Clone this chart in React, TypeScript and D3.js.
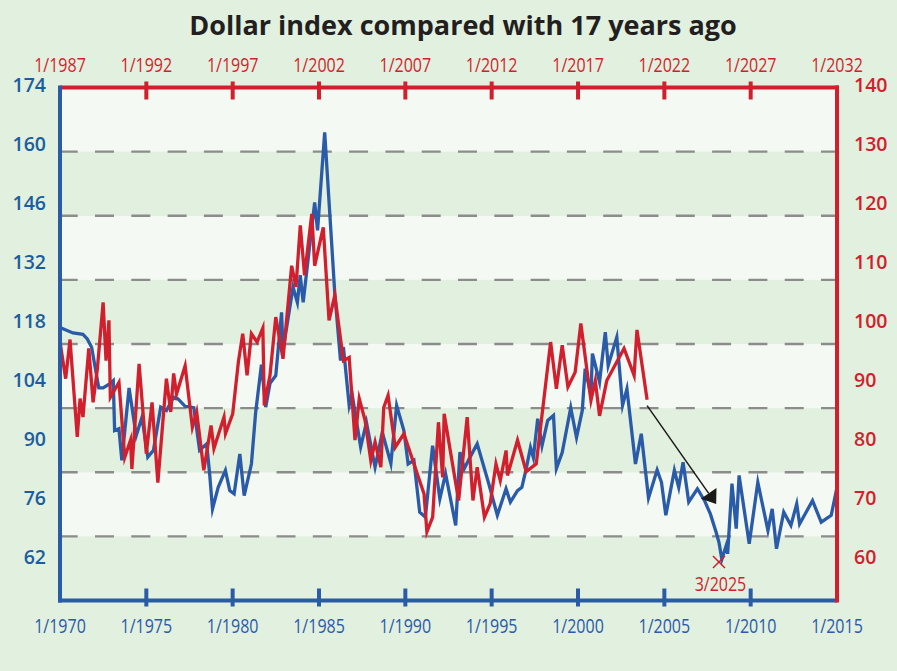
import React from 'react';
import * as d3 from 'd3';

const W = 897;
const H = 671;
const PLOT = { left: 60, right: 837, top: 87.5, bottom: 600.5 };

const TITLE = 'Dollar index compared with 17 years ago';

// Dollar index, 1970-2015 (bottom / left axes)
const pastIndex: [string, number][] = [
  ['1970-01', 121.6], ['1970-10', 120.4], ['1971-05', 120.1], ['1971-08', 119.1],
  ['1971-11', 117.3], ['1972-01', 113.7], ['1972-04', 108.4], ['1972-07', 108.4],
  ['1972-12', 109.4], ['1973-02', 110.0], ['1973-03', 99.1], ['1973-06', 99.5],
  ['1973-08', 92.6], ['1974-01', 108.4], ['1974-06', 98.0], ['1974-10', 102.0],
  ['1975-02', 93.3], ['1975-06', 94.8], ['1975-11', 104.2], ['1976-03', 103.5],
  ['1976-08', 106.4], ['1976-11', 106.0], ['1977-04', 104.4], ['1977-10', 104.1],
  ['1978-02', 94.8], ['1978-07', 96.2], ['1978-09', 89.7], ['1978-11', 82.0],
  ['1979-03', 86.7], ['1979-08', 90.4], ['1979-11', 86.0], ['1980-02', 85.3],
  ['1980-06', 94.0], ['1980-09', 84.9], ['1981-02', 91.8], ['1981-05', 103.0],
  ['1981-09', 113.5], ['1981-12', 104.2], ['1982-03', 109.4], ['1982-07', 111.1],
  ['1982-11', 124.9], ['1982-12', 116.6], ['1983-07', 130.4], ['1983-10', 127.1],
  ['1983-12', 133.0], ['1984-02', 127.1], ['1984-06', 138.0], ['1984-10', 148.9],
  ['1984-12', 142.8], ['1985-05', 164.2], ['1985-12', 129.0], ['1986-04', 114.4],
  ['1986-06', 117.3], ['1986-10', 104.6], ['1986-12', 107.1], ['1987-06', 95.5],
  ['1987-10', 100.9], ['1988-04', 91.1], ['1988-09', 98.7], ['1989-03', 91.9],
  ['1989-07', 104.6], ['1989-12', 99.1], ['1990-03', 91.8], ['1990-07', 92.6],
  ['1990-11', 81.3], ['1991-03', 80.2], ['1991-08', 95.8], ['1992-01', 84.2],
  ['1992-05', 89.7], ['1992-12', 78.4], ['1993-03', 94.4], ['1993-06', 90.8],
  ['1993-10', 93.3], ['1994-03', 96.2], ['1994-11', 87.5], ['1995-05', 80.6],
  ['1995-11', 86.4], ['1996-02', 83.5], ['1996-07', 86.0], ['1996-10', 86.7],
  ['1997-01', 90.8], ['1997-04', 95.4], ['1997-06', 93.2], ['1997-09', 101.7],
  ['1997-12', 95.8], ['1998-04', 101.3], ['1998-08', 102.4], ['1998-10', 90.8],
  ['1999-02', 94.3], ['1999-08', 104.1], ['1999-12', 97.6], ['2000-04', 103.5],
  ['2000-06', 112.6], ['2000-10', 106.8], ['2000-11', 115.9], ['2001-04', 109.7],
  ['2001-08', 120.6], ['2001-10', 113.3], ['2002-04', 119.5], ['2002-08', 104.6],
  ['2002-11', 108.2], ['2003-05', 91.8], ['2003-09', 98.4], ['2004-02', 84.4],
  ['2004-08', 90.5], ['2004-11', 87.8], ['2005-02', 80.6], ['2005-08', 90.4],
  ['2005-11', 86.7], ['2006-02', 92.2], ['2006-06', 83.5], ['2006-12', 86.4],
  ['2007-05', 83.8], ['2007-09', 80.9], ['2008-01', 76.9], ['2008-03', 74.7],
  ['2008-05', 71.0], ['2008-08', 74.0], ['2008-09', 72.2], ['2008-12', 87.5],
  ['2009-03', 77.7], ['2009-05', 89.3], ['2009-12', 74.4], ['2010-06', 87.8],
  ['2011-01', 77.3], ['2011-04', 82.0], ['2011-07', 73.3], ['2011-12', 81.3],
  ['2012-05', 78.4], ['2012-09', 83.1], ['2012-11', 78.7], ['2013-08', 83.8],
  ['2014-02', 79.1], ['2014-09', 80.6], ['2015-01', 86.7],
];

// Dollar index, 1987-2021 (top / right axes)
const recentIndex: [string, number][] = [
  ['1987-01', 100.3], ['1987-05', 94.6], ['1987-08', 100.7], ['1988-01', 85.5],
  ['1988-03', 91.5], ['1988-05', 88.6], ['1988-09', 99.3], ['1988-12', 90.9],
  ['1989-03', 96.1], ['1989-07', 106.5], ['1989-09', 97.4], ['1989-11', 103.7],
  ['1989-12', 91.7], ['1990-06', 94.0], ['1990-10', 82.3], ['1991-02', 85.0],
  ['1991-03', 80.5], ['1991-08', 96.9], ['1992-01', 82.9], ['1992-05', 90.9],
  ['1992-09', 78.4], ['1993-03', 94.6], ['1993-06', 89.4], ['1993-08', 95.4],
  ['1993-10', 92.2], ['1994-04', 96.6], ['1994-09', 87.0], ['1994-12', 89.4],
  ['1995-05', 80.3], ['1995-10', 87.3], ['1995-12', 83.7], ['1996-07', 88.6],
  ['1996-08', 86.0], ['1997-01', 89.1], ['1997-05', 97.2], ['1997-08', 101.6],
  ['1997-11', 95.1], ['1998-02', 101.6], ['1998-06', 100.3], ['1998-10', 102.5],
  ['1998-11', 90.4], ['1999-03', 95.1], ['1999-07', 104.2], ['1999-12', 97.7],
  ['2000-06', 112.2], ['2000-09', 108.9], ['2000-12', 118.5], ['2001-03', 110.7],
  ['2001-08', 120.3], ['2001-10', 112.2], ['2002-04', 118.2], ['2002-08', 103.7],
  ['2002-12', 107.6], ['2003-06', 97.4], ['2003-10', 97.9], ['2004-02', 85.0],
  ['2004-05', 91.5], ['2004-09', 88.1], ['2005-01', 81.8], ['2005-04', 84.7],
  ['2005-08', 80.8], ['2005-10', 90.1], ['2006-01', 92.0], ['2006-06', 83.9],
  ['2006-12', 86.0], ['2008-02', 76.6], ['2008-04', 70.7], ['2008-08', 73.0],
  ['2008-12', 87.8], ['2009-03', 79.2], ['2009-04', 89.1], ['2010-02', 75.6],
  ['2010-08', 88.6], ['2010-12', 75.6], ['2011-03', 80.8], ['2011-08', 73.0],
  ['2011-12', 75.1], ['2012-04', 81.3], ['2012-07', 78.7], ['2012-11', 83.4],
  ['2012-12', 79.5], ['2013-07', 85.0], ['2014-01', 80.1], ['2014-08', 81.3],
  ['2015-06', 100.3], ['2015-10', 93.0], ['2016-02', 99.8], ['2016-06', 93.3],
  ['2016-11', 95.6], ['2017-03', 103.2], ['2017-10', 91.2], ['2018-01', 94.3],
  ['2018-04', 88.8], ['2018-09', 94.3], ['2019-09', 99.3], ['2020-04', 95.1],
  ['2020-06', 102.2], ['2021-01', 91.3],
];

const leftTicks = [62, 76, 90, 104, 118, 132, 146, 160, 174];
const rightTicks = [60, 70, 80, 90, 100, 110, 120, 130, 140];
const bottomYears = [1970, 1975, 1980, 1985, 1990, 1995, 2000, 2005, 2010, 2015];
const topYears = [1987, 1992, 1997, 2002, 2007, 2012, 2017, 2022, 2027, 2032];

// projection arrow and marked low, on the top / right axes
const arrowFrom = { date: '2021-01', value: 90.4 };
const arrowTo = { date: '2025-01', value: 75.05 };
const lowMark = { date: '2025-03', value: 66, label: '3/2025' };

const BLUE = '#2a5ba8';
const RED = '#d21f2e';
const BG = '#e2f0df';
const BAND = '#f4f9f3';
const SANS = "'Open Sans', 'Noto Sans', sans-serif";

const parse = d3.timeParse('%Y-%m');

// date labels use a horizontally squeezed face
function NarrowLabel({ x, y, fill, children }: { x: number; y: number; fill: string; children: string }) {
  return (
    <text transform={`translate(${x},${y}) scale(0.8,1)`} textAnchor="middle"
      fontFamily={SANS} fontSize={20} fill={fill}>{children}</text>
  );
}

export default function App() {
  const xBottom = d3.scaleTime()
    .domain([new Date(1970, 0, 1), new Date(2015, 0, 1)])
    .range([PLOT.left, PLOT.right]);
  const xTop = d3.scaleTime()
    .domain([new Date(1987, 0, 1), new Date(2032, 0, 1)])
    .range([PLOT.left, PLOT.right]);
  const yLeft = d3.scaleLinear().domain([62, 174]).range([PLOT.bottom, PLOT.top]);
  const yRight = d3.scaleLinear().domain([60, 140]).range([PLOT.bottom, PLOT.top]);
  // the value labels sit on a tighter spacing than the grid
  const yLeftLabel = d3.scaleLinear().domain([174, 62]).range([84.8, 557.5]);
  const yRightLabel = d3.scaleLinear().domain([140, 60]).range([84.8, 557.5]);

  const pastLine = d3.line<[string, number]>()
    .x(d => xBottom(parse(d[0])!))
    .y(d => yLeft(d[1]));
  const recentLine = d3.line<[string, number]>()
    .x(d => xTop(parse(d[0])!))
    .y(d => yRight(d[1]));

  // alternating background bands between grid lines
  const bands = leftTicks.slice(0, -1).map((v, i) => ({
    y0: yLeft(leftTicks[i + 1]),
    y1: yLeft(v),
    fill: i % 2 === 1 ? BAND : BG,
  }));

  // arrow head
  const ax0 = xTop(parse(arrowFrom.date)!);
  const ay0 = yRight(arrowFrom.value);
  const ax1 = xTop(parse(arrowTo.date)!);
  const ay1 = yRight(arrowTo.value);
  const len = Math.hypot(ax1 - ax0, ay1 - ay0);
  const ux = (ax1 - ax0) / len;
  const uy = (ay1 - ay0) / len;
  const headLen = 13;
  const headHalf = 9.5;
  const bx = ax1 - ux * headLen;
  const by = ay1 - uy * headLen;
  const head = [
    [ax1, ay1],
    [bx - uy * headHalf, by + ux * headHalf],
    [bx + uy * headHalf, by - ux * headHalf],
  ].map(p => p.join(',')).join(' ');

  const mx = xTop(parse(lowMark.date)!);
  const my = yRight(lowMark.value);

  return (
    <div style={{ position: 'absolute', left: 0, top: 0 }}>
      <svg width={W} height={H} style={{ display: 'block' }}>
        <rect width={W} height={H} fill={BG} />
        <text x={463} y={35} textAnchor="middle" fontFamily={SANS} fontWeight={700}
          fontSize={27} fill="#231f20">{TITLE}</text>

        {bands.map((b, i) => (
          <rect key={i} x={PLOT.left} y={b.y0} width={PLOT.right - PLOT.left}
            height={b.y1 - b.y0} fill={b.fill} />
        ))}

        {leftTicks.slice(1, -1).map(v => (
          <line key={v} x1={PLOT.left} x2={PLOT.right} y1={yLeft(v)} y2={yLeft(v)}
            stroke="#8c8c8c" strokeWidth={2.4} strokeDasharray="19 17.3" strokeDashoffset={1.3} />
        ))}

        <path d={pastLine(pastIndex) ?? ''} fill="none" stroke={BLUE} strokeWidth={3.3}
          strokeLinejoin="miter" strokeMiterlimit={6} />
        <path d={recentLine(recentIndex) ?? ''} fill="none" stroke={RED} strokeWidth={3.3}
          strokeLinejoin="miter" strokeMiterlimit={6} />

        {/* frame: horizontal edges first so the vertical ones sit over the corners */}
        <line x1={PLOT.left} x2={PLOT.right + 2} y1={PLOT.top} y2={PLOT.top} stroke={RED} strokeWidth={4} />
        <line x1={PLOT.left - 2} x2={PLOT.right} y1={PLOT.bottom} y2={PLOT.bottom} stroke={BLUE} strokeWidth={4} />
        <line x1={PLOT.left} x2={PLOT.left} y1={PLOT.top - 2} y2={PLOT.bottom + 2} stroke={BLUE} strokeWidth={4} />
        <line x1={PLOT.right} x2={PLOT.right} y1={PLOT.top - 2} y2={PLOT.bottom + 2} stroke={RED} strokeWidth={4} />

        {bottomYears.slice(1, -1).map(yr => {
          const x = xBottom(new Date(yr, 0, 1));
          return <line key={yr} x1={x} x2={x} y1={PLOT.bottom - 12} y2={PLOT.bottom + 6}
            stroke={BLUE} strokeWidth={4} />;
        })}
        {topYears.slice(1, -1).map(yr => {
          const x = xTop(new Date(yr, 0, 1));
          return <line key={yr} x1={x} x2={x} y1={PLOT.top - 6} y2={PLOT.top + 12}
            stroke={RED} strokeWidth={4} />;
        })}

        {bottomYears.map(yr => (
          <NarrowLabel key={yr} x={xBottom(new Date(yr, 0, 1))} y={633} fill={BLUE}>{`1/${yr}`}</NarrowLabel>
        ))}
        {topYears.map(yr => (
          <NarrowLabel key={yr} x={xTop(new Date(yr, 0, 1))} y={71.5} fill={RED}>{`1/${yr}`}</NarrowLabel>
        ))}

        {leftTicks.map(v => (
          <text key={v} x={46} y={yLeftLabel(v) + 6.8} textAnchor="end"
            fontFamily={SANS} fontWeight={600} fontSize={19.5} fill="#1b5e9f">{v}</text>
        ))}
        {rightTicks.map(v => (
          <text key={v} x={854} y={yRightLabel(v) + 6.8} textAnchor="start"
            fontFamily={SANS} fontWeight={600} fontSize={19.5} fill={RED}>{v}</text>
        ))}

        <line x1={ax0} y1={ay0} x2={bx} y2={by} stroke="#1a1a1a" strokeWidth={1.5} />
        <polygon points={head} fill="#1a1a1a" />

        <g stroke={RED} strokeWidth={1.5}>
          <line x1={mx - 6} y1={my - 6} x2={mx + 6} y2={my + 6} />
          <line x1={mx - 6} y1={my + 6} x2={mx + 6} y2={my - 6} />
        </g>
        <NarrowLabel x={mx + 1.5} y={590.7} fill={RED}>{lowMark.label}</NarrowLabel>
      </svg>
    </div>
  );
}
